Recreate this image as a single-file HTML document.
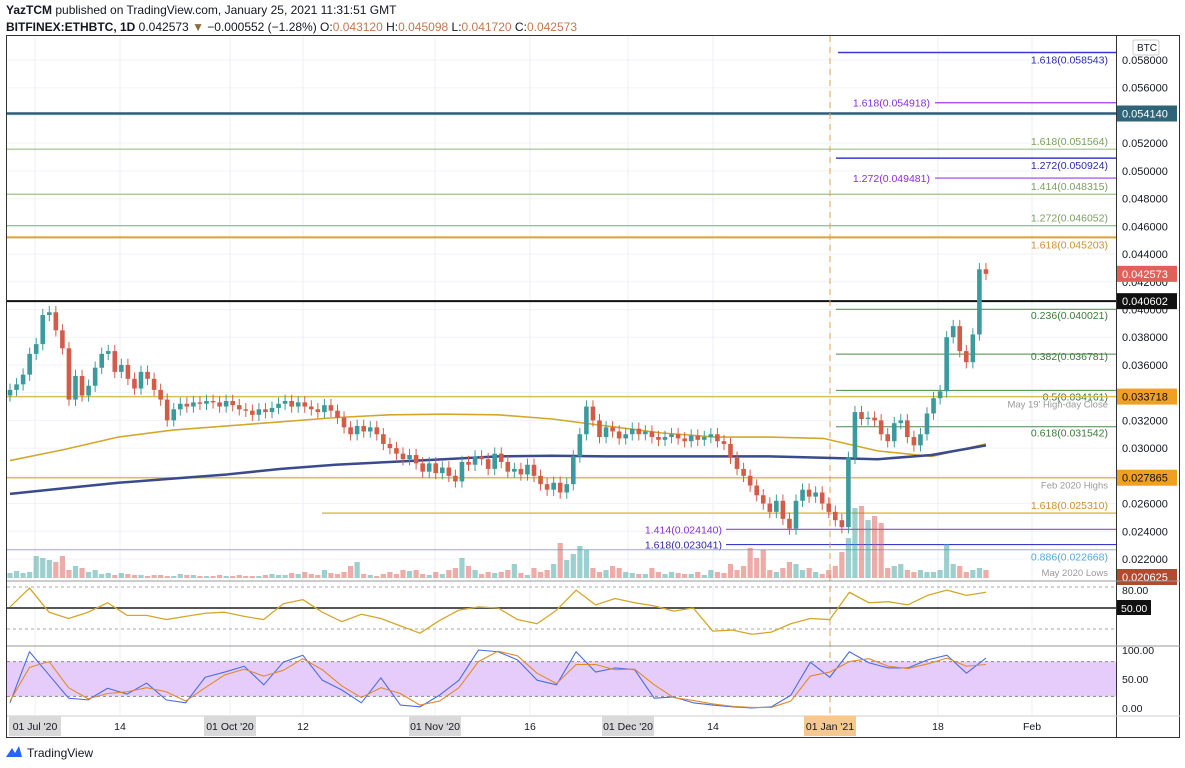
<!DOCTYPE html>
<html><head><meta charset="utf-8"><style>
html,body{margin:0;padding:0;background:#fff;}
svg{display:block;font-family:"Liberation Sans",sans-serif;}
</style></head><body>
<svg id="chart" width="1185" height="768" viewBox="0 0 1185 768">
<text x="6" y="14" font-size="12" fill="#131722"><tspan font-weight="bold">YazTCM</tspan> published on TradingView.com, January 25, 2021 11:31:51 GMT</text>
<text x="6" y="31" font-size="12" fill="#131722"><tspan font-weight="bold">BITFINEX:ETHBTC, 1D</tspan> 0.042573 <tspan fill="#8b6b3a">▼</tspan> −0.000552 (−1.28%) O:<tspan fill="#c07a50">0.043120</tspan> H:<tspan fill="#c07a50">0.045098</tspan> L:<tspan fill="#c07a50">0.041720</tspan> C:<tspan fill="#c07a50">0.042573</tspan></text>
<rect x="6.5" y="35.5" width="1173" height="702" fill="none" stroke="#333" stroke-width="1"/>
<line x1="1116.5" y1="35" x2="1116.5" y2="737" stroke="#333"/>
<g id="grid"></g>
<g id="lines"></g>
<g id="vol"></g>
<g id="ma"></g>
<g id="candles"></g>
<g id="axis"></g>
<g id="rsi"></g>
<g id="stoch"></g>
<g id="xaxis"></g>
<g>
<path d="M6 757 L12 748 L15 753 L19 746 L22 757 Z" fill="#2962ff"/>
<text x="27" y="757" font-size="12" fill="#131722">TradingView</text>
</g>
</svg>
<script>
const closes=[34.2,34.6,35.3,36.8,37.5,39.6,39.8,38.5,37.2,33.5,
35.2,33.8,34.5,35.8,36.8,37.0,35.5,36.0,35.0,34.3,
35.5,35.0,34.2,33.5,32.0,32.8,33.2,33.0,33.3,33.2,
33.4,33.3,33.0,33.4,33.1,32.8,32.7,32.4,32.8,32.6,
32.9,33.2,33.4,33.0,33.3,33.0,32.8,32.6,33.1,32.7,
32.2,31.5,31.0,31.6,31.2,31.5,31.0,30.3,30.0,29.6,
29.2,29.5,28.9,28.3,28.9,28.2,28.6,28.0,27.6,29.0,
28.8,29.4,29.2,28.5,29.6,29.0,28.3,28.5,28.1,28.8,
28.0,27.4,27.0,27.5,26.8,27.4,29.4,31.0,33.0,32.0,
30.8,31.5,31.2,30.7,31.0,31.4,31.0,31.2,30.8,30.6,
30.8,31.0,30.7,30.5,30.9,30.6,30.8,31.0,30.5,30.3,
29.3,28.5,28.0,27.3,26.6,26.0,25.4,26.2,24.9,24.2,
26.2,27.0,26.5,26.8,26.0,25.4,24.8,24.3,29.3,32.6,
32.1,32.2,32.0,31.0,30.5,31.8,32.0,30.8,30.2,31.0,
32.5,33.6,34.1,38.0,38.8,37.0,36.2,38.2,42.9,42.573];
const firstOpen=33.8;
const volumes=[5,7,5,6,22,20,18,16,22,8,12,10,6,8,4,5,3,5,4,3,3,2,3,3,2,2,4,3,3,2,2,2,3,2,2,3,2,2,2,3,4,3,3,5,4,6,4,3,8,5,4,6,12,16,4,3,2,4,6,4,8,7,8,4,3,6,4,8,10,20,12,8,4,6,5,6,8,14,5,3,10,6,8,14,35,18,24,32,28,10,6,8,12,10,6,5,4,4,10,6,4,6,5,4,4,6,3,8,6,5,14,8,12,30,20,28,8,6,10,16,14,8,10,6,4,8,12,26,40,70,72,58,62,55,10,12,14,8,6,8,6,6,8,34,14,12,6,8,10,8];
const maYellow=[29.1,29.9,30.8,31.3,31.6,31.9,32.2,32.4,32.45,32.4,32.1,31.6,31.1,30.8,30.8,30.7,29.8,29.4,30.3];
const maBlue=[26.7,27.1,27.5,27.8,28.1,28.5,28.8,29.0,29.2,29.4,29.45,29.4,29.4,29.4,29.4,29.3,29.2,29.5,30.2];
const rsi=[51,69,46,40,46,55,43,43,39,42,45,46,42,39,54,58,46,37,44,40,33,26,38,48,51,50,39,35,48,67,53,59,55,52,47,50,28,29,25,27,35,40,39,65,55,56,53,62,67,62,65];
const stochK=[9,97,57,17,14,34,24,43,14,9,53,62,72,40,79,91,48,31,9,52,5,2,22,48,100,97,83,48,40,97,62,69,66,17,19,9,5,2,0,2,22,79,53,97,78,69,69,83,91,60,86];
const stochD=[12,70,80,35,16,25,28,35,28,12,35,57,67,55,65,85,66,38,18,35,25,5,12,35,80,98,90,60,42,75,75,66,67,40,18,13,7,3,1,1,12,55,62,80,85,72,68,76,86,72,75];
const priceTicks=[58,56,52,50,48,46,44,42,40,38,36,32,30,26,24,22];
const xLabels=["01 Jul '20","14","01 Oct '20","12","01 Nov '20","16","01 Dec '20","14","01 Jan '21","18","Feb"];
const xLabelPos=[35,120,230,303,435,530,628,713,830,938,1032];

const NS="http://www.w3.org/2000/svg";
function mk(tag,attrs,parent){const e=document.createElementNS(NS,tag);for(const k in attrs)e.setAttribute(k,attrs[k]);parent.appendChild(e);return e;}
const yP=p=>60+(58-p)*13.861;
const xI=i=>10+i*6.55;
const yR=v=>608-(v-50)*1.05;
const yS=v=>708-v*0.58;
const xK=k=>10+k*(976/50);

const grid=document.getElementById('grid');
for(let p=22;p<=58;p+=2){const l=mk('line',{x1:7,x2:1116,y1:yP(p),y2:yP(p),stroke:'#f0f3fa'},grid);

}
xLabelPos.forEach(x=>{const l=mk('line',{x1:x,x2:x,y1:36,y2:715,stroke:'#eceff5'},grid);

});

const levelPrices=[58.543,54.918,54.140,51.564,50.924,49.481,48.315,46.052,45.203,40.602,40.021,36.781,34.161,33.718,31.542,27.865,25.310,24.140,23.041,22.668];
const levelColors=['#3a3ad0','#9c3fe0','#2a5f78','#9bc08a','#3a3ad0','#9c3fe0','#9bc08a','#9bc08a','#e0a030','#111','#4a8a4a','#4a8a4a','#4a8a4a','#d8c050','#4a8a4a','#d8c050','#d8c050','#9c3fe0','#3a3ad0','#7fb8d8'];
const levelStart=[838,935,7,7,836,935,7,7,7,7,836,836,836,7,836,7,322,726,726,7];
const levelWidth=[1.5,1.2,2.5,1.2,1.5,1.2,1.2,1.2,2,2,1,1,1,1.5,1,1.5,1.5,1.2,1.2,1];
const levelText=['1.618(0.058543)','1.618(0.054918)','','1.618(0.051564)','1.272(0.050924)','1.272(0.049481)','1.414(0.048315)','1.272(0.046052)','1.618(0.045203)','','0.236(0.040021)','0.382(0.036781)','0.5(0.034161)','','0.618(0.031542)','','1.618(0.025310)','1.414(0.024140)','1.618(0.023041)','0.886(0.022668)'];
const levelTextColor=['#2a2ab0','#8a2be2','','#7aa060','#2a2ab0','#8a2be2','#7aa060','#7aa060','#d09030','','#3a7a3a','#3a7a3a','#3a7a3a','','#3a7a3a','','#d09030','#8a2be2','#2a2ab0','#5aa8d8'];
const labelOffset=[11,4,0,-4,11,4,-4,-4,11,0,10,6,10,0,10,0,-4,4,4,11];
const lines=document.getElementById('lines');
levelPrices.forEach((p,i)=>{
 const y=yP(p);
 const l=mk('line',{x1:levelStart[i],x2:1116,y1:y,y2:y,stroke:levelColors[i],'stroke-width':levelWidth[i]},lines);
 
 
 if(levelText[i]){
  let x=1108;
  if(levelStart[i]>900) x=levelStart[i]-5;
  else if(levelStart[i]===726) x=722;
  const t=mk('text',{x:x,y:y+labelOffset[i],'text-anchor':'end','font-size':10.5,fill:levelTextColor[i]},lines);
  t.textContent=levelText[i];
  
  
 }
});
[['May 19\' High-day Close',yP(33.718)+11],['Feb 2020 Highs',yP(27.865)+11],['May 2020 Lows',576]].forEach(a=>{
 const t=mk('text',{x:1108,y:a[1],'text-anchor':'end','font-size':9.5,fill:'#9a9a9a'},lines);t.textContent=a[0];
 
 });
const vd=mk('line',{x1:830,x2:830,y1:36,y2:715,stroke:'#e0a050','stroke-dasharray':'6,5'},lines);



const volG=document.getElementById('vol');
closes.forEach((c,i)=>{const o=i?closes[i-1]:firstOpen;const up=c>=o;
 const r=mk('rect',{x:xI(i)-2.6,y:578-volumes[i],width:5.2,height:volumes[i],fill:up?'rgba(60,160,160,0.5)':'rgba(220,90,80,0.5)'},volG);
 
 });

const maG=document.getElementById('ma');
function poly(arr,xf,yf,col,w,g,name){const pts=arr.map((v,k)=>xf(k)+','+yf(v)).join(' ');
 const p=mk('polyline',{points:pts,fill:'none',stroke:col,'stroke-width':w,'stroke-linejoin':'round'},g);
 
 }
const maX=k=>xI(k*(closes.length-1)/(maYellow.length-1));
poly(maYellow,maX,yP,'#d4a72c',1.6,maG,'ma-100-line');
poly(maBlue,maX,yP,'#3a4a8c',2.5,maG,'ma-200-line');

const cg=document.getElementById('candles');
closes.forEach((c,i)=>{const o=i?closes[i-1]:firstOpen;const up=c>=o;const col=up?'#3d9a9c':'#d25c48';
 const hi=Math.max(o,c)+0.45,lo=Math.min(o,c)-0.45;
 const w=mk('line',{x1:xI(i),x2:xI(i),y1:yP(hi),y2:yP(lo),stroke:col,'stroke-width':1},cg);
 
 
 const top=yP(Math.max(o,c)),bot=yP(Math.min(o,c));
 const b=mk('rect',{x:xI(i)-2.3,y:top,width:4.6,height:Math.max(1,bot-top),fill:col},cg);
 
 });

const ax=document.getElementById('axis');
priceTicks.forEach(p=>{const t=mk('text',{x:1122,y:yP(p)+4,'font-size':11,fill:'#131722'},ax);t.textContent='0.0'+String(p*1000).padStart(5,'0');
 
 });
function tag(p,txt,bg,fg,y){const yy=y!==undefined?y:yP(p);
 const r=mk('rect',{x:1117,y:yy-8,width:60,height:16,fill:bg},ax);
 
 
 const t=mk('text',{x:1122,y:yy+4,'font-size':11,fill:fg},ax);t.textContent=txt;
 
 }
tag(54.14,'0.054140','#2f6478','#fff');
tag(42.573,'0.042573','#e0605a','#fff');
tag(40.602,'0.040602','#111','#fff');
tag(33.718,'0.033718','#f0a020','#111');
tag(27.865,'0.027865','#f0a020','#111');
tag(0,'0.020625','#b04a30','#fff',577);
const btc=mk('rect',{x:1133,y:40,width:26,height:15,fill:'#fff',stroke:'#ccc',rx:2},ax);


const bt=mk('text',{x:1137,y:51,'font-size':10,fill:'#131722'},ax);bt.textContent='BTC';



const rg=document.getElementById('rsi');
const sep1=mk('line',{x1:7,x2:1180,y1:581,y2:581,stroke:'#999'},rg);


[70,30].forEach(v=>{const l=mk('line',{x1:7,x2:1116,y1:yR(v),y2:yR(v),stroke:'#aaa','stroke-dasharray':'3,3'},rg);
 
 });
const r50=mk('line',{x1:7,x2:1116,y1:608,y2:608,stroke:'#555','stroke-width':2},rg);


poly(rsi,xK,yR,'#d4a72c',1.3,rg,'rsi-line');
const rl=mk('text',{x:1122,y:594,'font-size':10.5,fill:'#131722'},rg);rl.textContent='80.00';


const rb=mk('rect',{x:1117,y:600,width:34,height:15,fill:'#111'},rg);


const rbt=mk('text',{x:1121,y:612,'font-size':10.5,fill:'#fff'},rg);rbt.textContent='50.00';



const sg=document.getElementById('stoch');
const sep2=mk('line',{x1:7,x2:1180,y1:646,y2:646,stroke:'#999'},sg);


const band=mk('rect',{x:7,y:yS(80),width:1109,height:yS(20)-yS(80),fill:'#e6ccfa'},sg);


[80,20].forEach(v=>{const l=mk('line',{x1:7,x2:1116,y1:yS(v),y2:yS(v),stroke:'#888','stroke-dasharray':'3,3'},sg);
 
 });
poly(stochK,xK,yS,'#4a6ee0',1.1,sg,'stoch-k-line');
poly(stochD,xK,yS,'#e08a30',1.1,sg,'stoch-d-line');
[[100,'100.00'],[50,'50.00'],[0,'0.00']].forEach(a=>{const t=mk('text',{x:1122,y:yS(a[0])+4,'font-size':10.5,fill:'#131722'},sg);t.textContent=a[1];
 
 });
const sep3=mk('line',{x1:7,x2:1180,y1:716,y2:716,stroke:'#ccc'},sg);



const xg=document.getElementById('xaxis');
xLabels.forEach((s,i)=>{const x=xLabelPos[i];const isDate=s.length>4;
 if(isDate){const r=mk('rect',{x:x-26,y:716,width:52,height:20,fill:s.indexOf('Jan')>=0?'#f5c890':'#d9d9d9'},xg);
  
  }
 const t=mk('text',{x:x,y:730,'text-anchor':'middle','font-size':10.5,fill:'#131722'},xg);t.textContent=s;
 
 });
</script>
</body></html>
